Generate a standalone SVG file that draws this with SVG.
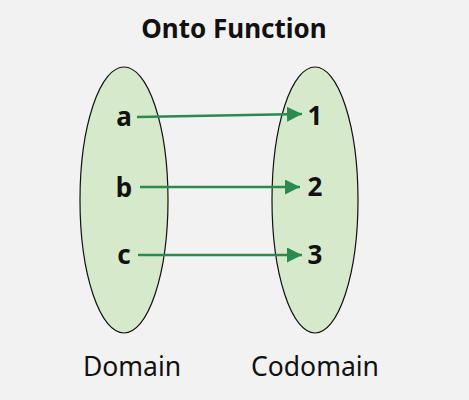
<svg xmlns="http://www.w3.org/2000/svg" width="469" height="400" viewBox="0 0 469 400">
<style>
.set{fill:#d6eacb;stroke:#111;stroke-width:1.2}
.el{font-family:"Noto Sans",sans-serif;font-weight:bold;font-size:26px;fill:#111;text-anchor:middle}
.lab{font-family:"Noto Sans",sans-serif;font-size:26.5px;fill:#111;text-anchor:middle}
.arr{stroke:#2b8a4e;stroke-width:2.5;fill:none;marker-end:url(#ah)}
</style>
<defs>
<marker id="ah" viewBox="0 0 10 10" refX="10" refY="5" markerWidth="6" markerHeight="6" markerUnits="strokeWidth" orient="auto">
<path d="M0,0 L10,5 L0,10 z" fill="#2b8a4e"/>
</marker>
</defs>
<rect width="469" height="400" fill="#f2f2f2"/>
<text x="234" y="38" class="el">Onto Function</text>
<g id="domain">
<ellipse cx="124" cy="200" rx="44" ry="133" class="set"/>
<text x="132" y="376" class="lab">Domain</text>
</g>
<g id="codomain">
<ellipse cx="315" cy="200" rx="43" ry="133" class="set"/>
<text x="315" y="376" class="lab">Codomain</text>
</g>
<g id="a"><text x="124" y="126" class="el">a</text></g>
<g id="b"><text x="124" y="197" class="el">b</text></g>
<g id="c"><text x="124" y="264" class="el">c</text></g>
<g id="n1"><text x="315" y="125" class="el">1</text></g>
<g id="n2"><text x="315" y="196" class="el">2</text></g>
<g id="n3"><text x="315" y="264" class="el">3</text></g>
<g id="connectors">
<line x1="137" y1="117" x2="302" y2="114" class="arr"/>
<line x1="140" y1="187" x2="300" y2="187" class="arr"/>
<line x1="138" y1="255" x2="302" y2="255" class="arr"/>
</g>
</svg>
